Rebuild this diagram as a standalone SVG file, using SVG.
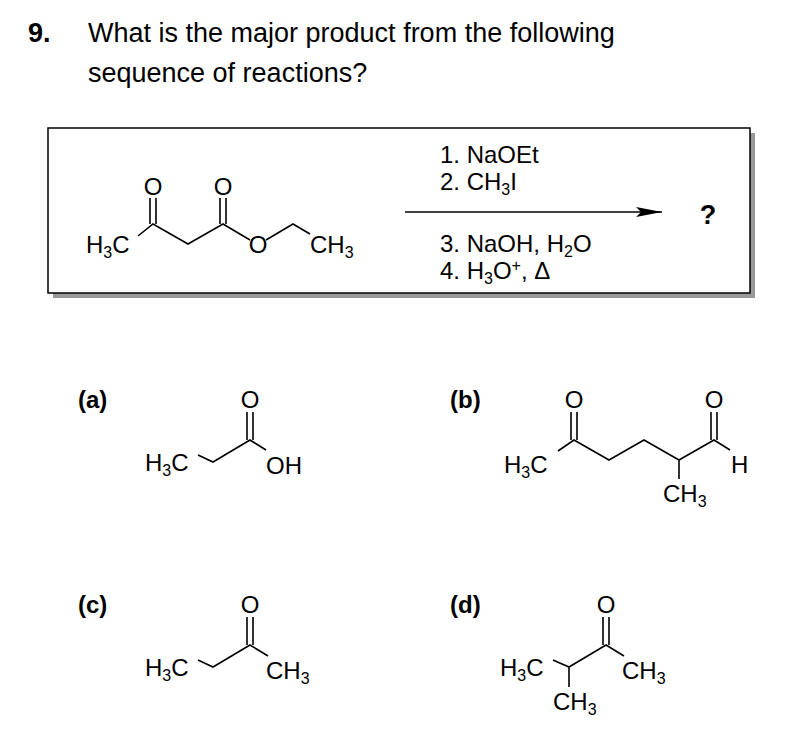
<svg xmlns="http://www.w3.org/2000/svg" width="804" height="756" viewBox="0 0 804 756">
<style>
text{font-family:"Liberation Sans",Arial,sans-serif;fill:#000}
.t{font-size:27px}
.l{font-size:24px}
.s{font-size:16px}
.b{font-weight:bold}
.bd{stroke:#000;stroke-width:1.6;fill:none}
</style>
<defs><marker id="ah" markerWidth="26" markerHeight="10" refX="26" refY="5" orient="auto" markerUnits="userSpaceOnUse"><path d="M0,0 L26,5 L0,10 L5,5 Z" fill="#000"/></marker></defs>
<rect width="804" height="756" fill="#fff"/>
<g id="title">
<text class="t b" x="28" y="42">9.</text>
<text class="t" x="88" y="42">What is the major product from the following</text>
<text class="t" x="88" y="82">sequence of reactions?</text>
</g>
<g id="box">
<rect x="53" y="133" width="702" height="165" fill="#999"/>
<rect x="48" y="128" width="702" height="165" fill="#fff" stroke="#000" stroke-width="1.5"/>
</g>
<g id="start">
<text class="l" x="86" y="253">H<tspan class="s" dy="5">3</tspan><tspan dy="-5">C</tspan></text>
<path class="bd" d="M138,236 L153,224 L188,244 L223,224 L250,240 M266,240 L293,224 L310,234"/>
<path class="bd" d="M150,224 V198 M156,224 V198 M220,224 V198 M226,224 V198"/>
<text class="l" x="153" y="195" text-anchor="middle">O</text>
<text class="l" x="223" y="195" text-anchor="middle">O</text>
<text class="l" x="258" y="253" text-anchor="middle">O</text>
<text class="l" x="310" y="253">CH<tspan class="s" dy="5">3</tspan></text>
</g>
<g id="connectors">
<line x1="405" y1="212" x2="662" y2="212" stroke="#000" stroke-width="1.5" marker-end="url(#ah)"/>
</g>
<g id="reagents">
<text class="l" x="440" y="163">1. NaOEt</text>
<text class="l" x="440" y="190">2. CH<tspan class="s" dy="5">3</tspan><tspan dy="-5">I</tspan></text>
<text class="l" x="440" y="252">3. NaOH, H<tspan class="s" dy="5">2</tspan><tspan dy="-5">O</tspan></text>
<text class="l" x="440" y="279">4. H<tspan class="s" dy="5">3</tspan><tspan dy="-5">O</tspan><tspan class="s" dy="-8">+</tspan><tspan dy="8">, Δ</tspan></text>
<text class="t b" x="708" y="224" text-anchor="middle">?</text>
</g>
<g id="a">
<text class="l b" x="78" y="408">(a)</text>
<text class="l" x="145" y="471">H<tspan class="s" dy="5">3</tspan><tspan dy="-5">C</tspan></text>
<path class="bd" d="M198,455 L213,462 L250,440 L266,450 M247,440 V412 M253,440 V412"/>
<text class="l" x="250" y="408" text-anchor="middle">O</text>
<text class="l" x="266" y="474">OH</text>
</g>
<g id="b">
<text class="l b" x="450" y="408">(b)</text>
<text class="l" x="504" y="473">H<tspan class="s" dy="5">3</tspan><tspan dy="-5">C</tspan></text>
<path class="bd" d="M558,451 L574,440 L609,460 L644,440 L679,460 L714,440 L730,450 M679,460 V479 M571,440 V412 M577,440 V412 M711,440 V412 M717,440 V412"/>
<text class="l" x="574" y="408" text-anchor="middle">O</text>
<text class="l" x="714" y="408" text-anchor="middle">O</text>
<text class="l" x="731" y="473">H</text>
<text class="l" x="663" y="502">CH<tspan class="s" dy="5">3</tspan></text>
</g>
<g id="c">
<text class="l b" x="78" y="613">(c)</text>
<text class="l" x="145" y="676">H<tspan class="s" dy="5">3</tspan><tspan dy="-5">C</tspan></text>
<path class="bd" d="M198,660 L213,667 L250,645 L268,656 M247,645 V617 M253,645 V617"/>
<text class="l" x="250" y="613" text-anchor="middle">O</text>
<text class="l" x="266" y="679">CH<tspan class="s" dy="5">3</tspan></text>
</g>
<g id="d">
<text class="l b" x="450" y="613">(d)</text>
<text class="l" x="500" y="676">H<tspan class="s" dy="5">3</tspan><tspan dy="-5">C</tspan></text>
<path class="bd" d="M553,660 L569,667 L606,645 L624,656 M569,667 V687 M603,645 V617 M609,645 V617"/>
<text class="l" x="606" y="613" text-anchor="middle">O</text>
<text class="l" x="622" y="679">CH<tspan class="s" dy="5">3</tspan></text>
<text class="l" x="553" y="710">CH<tspan class="s" dy="5">3</tspan></text>
</g>
</svg>
